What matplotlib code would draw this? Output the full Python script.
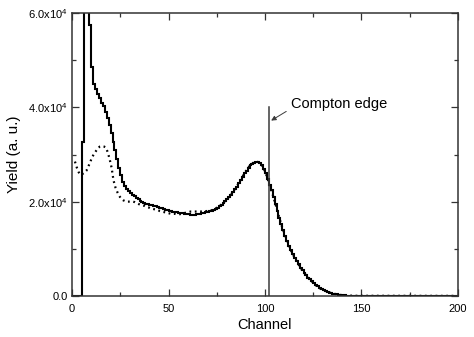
import numpy as np
import matplotlib
matplotlib.use("Agg")
import matplotlib.pyplot as plt
from matplotlib.ticker import MultipleLocator, FixedLocator

plt.rcParams['font.family'] = ['Liberation Sans', 'DejaVu Sans']
plt.rcParams['mathtext.default'] = 'regular'

# Measured spectrum: counts per channel (bins 0..199), in units of 1e4
measured = [
    0, 0, 0, 0, 0, 3.27, 12.0, 9.0, 7.2, 5.74,
    4.86, 4.50, 4.38, 4.28, 4.20, 4.10, 4.02, 3.90, 3.78, 3.62,
    3.45, 3.27, 3.09, 2.90, 2.72, 2.56, 2.42, 2.33, 2.27, 2.22,
    2.18, 2.14, 2.11, 2.08, 2.05, 2.02, 2.00, 1.98, 1.96, 1.95,
    1.93, 1.92, 1.91, 1.90, 1.88, 1.87, 1.86, 1.84, 1.83, 1.82,
    1.81, 1.80, 1.79, 1.78, 1.77, 1.76, 1.75, 1.75, 1.74, 1.73,
    1.73, 1.72, 1.72, 1.72, 1.73, 1.73, 1.74, 1.75, 1.76, 1.77,
    1.78, 1.80, 1.81, 1.83, 1.85, 1.87, 1.90, 1.93, 1.97, 2.01,
    2.05, 2.10, 2.15, 2.20, 2.26, 2.32, 2.39, 2.46, 2.53, 2.60,
    2.66, 2.72, 2.77, 2.80, 2.83, 2.85, 2.84, 2.82, 2.77, 2.70,
    2.60, 2.48, 2.35, 2.24, 2.10, 1.95, 1.80, 1.66, 1.52, 1.40,
    1.28, 1.17, 1.06, 0.97, 0.89, 0.81, 0.74, 0.67, 0.60, 0.54,
    0.49, 0.44, 0.39, 0.35, 0.31, 0.27, 0.23, 0.20, 0.17, 0.15,
    0.13, 0.11, 0.09, 0.07, 0.06, 0.05, 0.04, 0.03, 0.025, 0.02,
    0.015, 0.01, 0.008, 0.006, 0.004, 0.003, 0.002, 0.002, 0.002, 0.001,
    0, 0, 0, 0, 0, 0, 0, 0, 0, 0,
    0, 0, 0, 0, 0, 0, 0, 0, 0, 0,
    0, 0, 0, 0, 0, 0, 0, 0, 0, 0,
    0, 0, 0, 0, 0, 0, 0, 0, 0, 0,
    0, 0, 0, 0, 0, 0, 0, 0, 0, 0,
]

# Simulated spectrum: channels 1..199, in units of 1e4
simulated = [
    2.85, 2.72, 2.62, 2.57, 2.59, 2.62, 2.66, 2.75, 2.85,
    2.95, 3.02, 3.08, 3.14, 3.17, 3.18, 3.17, 3.15, 3.05, 2.90,
    2.72, 2.45, 2.30, 2.20, 2.12, 2.06, 2.03, 2.01, 2.00, 2.00,
    2.00, 2.00, 1.99, 1.97, 1.95, 1.93, 1.92, 1.91, 1.89, 1.88,
    1.86, 1.85, 1.84, 1.83, 1.82, 1.80, 1.79, 1.78, 1.77, 1.76,
    1.75, 1.74, 1.74, 1.74, 1.73, 1.73, 1.74, 1.75, 1.76, 1.77,
    1.78, 1.79, 1.79, 1.79, 1.79, 1.79, 1.79, 1.79, 1.79, 1.80,
    1.80, 1.81, 1.82, 1.84, 1.86, 1.88, 1.91, 1.94, 1.98, 2.02,
    2.06, 2.11, 2.16, 2.21, 2.27, 2.33, 2.40, 2.47, 2.54, 2.61,
    2.67, 2.73, 2.78, 2.81, 2.84, 2.85, 2.84, 2.81, 2.76, 2.69,
    2.59, 2.47, 2.34, 2.22, 2.08, 1.94, 1.79, 1.65, 1.51, 1.39,
    1.27, 1.16, 1.05, 0.96, 0.88, 0.80, 0.73, 0.66, 0.59, 0.53,
    0.48, 0.43, 0.38, 0.34, 0.30, 0.26, 0.22, 0.19, 0.16, 0.14,
    0.12, 0.10, 0.08, 0.07, 0.06, 0.05, 0.04, 0.03, 0.02, 0.02,
    0.015, 0.01, 0.008, 0.006, 0.004, 0.003, 0.002, 0.002, 0.001, 0.001,
    0, 0, 0, 0, 0, 0, 0, 0, 0, 0,
    0, 0, 0, 0, 0, 0, 0, 0, 0, 0,
    0, 0, 0, 0, 0, 0, 0, 0, 0, 0,
    0, 0, 0, 0, 0, 0, 0, 0, 0, 0,
    0, 0, 0, 0, 0, 0, 0, 0, 0, 0,
]

compton_channel = 102.2
compton_top = 4.0  # 1e4 units
y_tick_values = [0, 2, 4, 6]
y_tick_labels = ['0.0', '2.0x10$^{4}$', '4.0x10$^{4}$', '6.0x10$^{4}$']
x_tick_values = [0, 50, 100, 150, 200]

scale = 1e4
meas = np.array(measured) * scale
sim = np.array(simulated) * scale

fig = plt.figure(figsize=(4.74, 3.37), dpi=100)
ax = fig.add_axes([0.152, 0.122, 0.814, 0.839])

# measured: step histogram over unit-wide channels
edges = np.arange(len(meas) + 1)
ax.stairs(meas, edges, color='black', lw=1.5, baseline=None)

# simulated: dotted curve through channel centres
xs = np.arange(1, len(sim) + 1) + 0.5
ax.plot(xs, sim, color='black', lw=1.6, linestyle=(0, (0.8, 1.6)))

# Compton edge marker
ax.plot([compton_channel, compton_channel], [0, compton_top * scale],
        color='#3a3a3a', lw=1.1)
ax.annotate('Compton edge',
            xy=(compton_channel + 1.0, 3.72 * scale),
            xytext=(compton_channel + 11.5, 4.07 * scale),
            fontsize=10.5, va='center', ha='left',
            arrowprops=dict(arrowstyle='-|>', color='#3a3a3a', lw=0.7,
                            mutation_scale=7, shrinkA=2, shrinkB=0,
                            relpos=(0, 0.2)))

ax.set_xlim(0, 200)
ax.set_ylim(0, 6 * scale)
ax.xaxis.set_major_locator(FixedLocator(x_tick_values))
ax.xaxis.set_minor_locator(MultipleLocator(25))
ax.yaxis.set_major_locator(FixedLocator([v * scale for v in y_tick_values]))
ax.yaxis.set_minor_locator(MultipleLocator(1 * scale))
ax.set_yticklabels(y_tick_labels)
ax.set_xticklabels([str(v) for v in x_tick_values])

ax.tick_params(which='both', direction='in', top=True, right=True,
               color='#333333', width=0.9, labelsize=8)
ax.tick_params(axis='x', which='both', pad=6)
ax.tick_params(axis='y', which='both', pad=3)
ax.tick_params(which='major', length=5)
ax.tick_params(which='minor', length=3)
for s in ax.spines.values():
    s.set_color('#333333')
    s.set_linewidth(1.1)

ax.set_xlabel('Channel', fontsize=10.5, labelpad=3)
ax.set_ylabel('Yield (a. u.)', fontsize=11, labelpad=5)

fig.savefig('out.png', dpi=100)
